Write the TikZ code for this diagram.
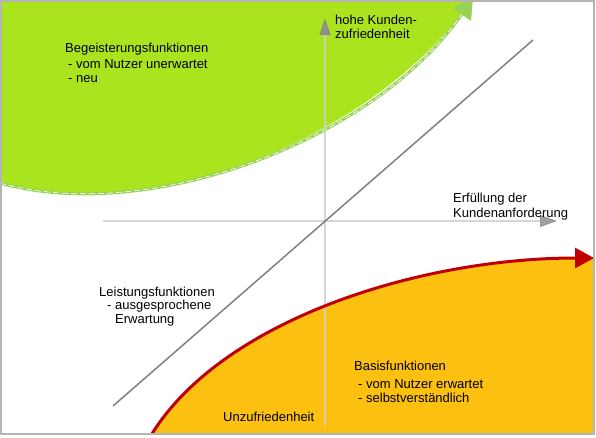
\documentclass[tikz,border=0pt]{standalone}
\usepackage{fontspec}
\setmainfont{Liberation Sans}
\usetikzlibrary{arrows.meta}
\definecolor{kanogreen}{HTML}{AAE41E}
\definecolor{kanogreenedge}{HTML}{98D255}
\definecolor{kanoorange}{HTML}{FCC010}
\definecolor{kanored}{HTML}{C00000}
\definecolor{axisgray}{HTML}{CFCFCF}
\definecolor{axishead}{HTML}{8C8494}
\definecolor{axisheadx}{HTML}{909090}
\definecolor{diaggray}{HTML}{808080}
\definecolor{framegray}{HTML}{B4B4B4}
\tikzset{
	lbl/.style={anchor=base west, inner sep=0pt, font=\fontsize{13}{15}\selectfont},
	axisline/.style={line width=1.3pt, color=axisgray, opacity=0.85},
}

\begin{document}
\begin{tikzpicture}[x=1pt, y=-1pt]
		%%%%% START %%%%%
		\useasboundingbox (0,0) rectangle (596,437);
		
		\begin{scope}
		\clip (1,1) rectangle (594,434);
		
		\fill[kanogreen] (0,0) -- (0,183) .. controls (150,225) and (375,140) .. (473,-2) -- cycle;
		\fill[kanoorange] (150,437) .. controls (220,320) and (420,258) .. (594,258) -- (594,437) -- cycle;
		
		\coordinate (xstart) at (103,221);
		\coordinate (xend) at (557,221);
		\coordinate (ystart) at (325,425);
		\coordinate (yend) at (325,18);
		\coordinate (dstart) at (113,406);
		\coordinate (dend) at (533,40);
		
		\draw[axisline, -{Triangle[length=17pt,width=12pt,color=axisheadx]}] (xstart) -- (xend);
		\draw[axisline, -{Triangle[length=17pt,width=11pt,color=axishead]}] (ystart) -- (yend);
		\draw[line width=1.5pt, color=diaggray] (dstart) -- (dend);
		
		\draw[line width=3pt, kanogreenedge, -{Triangle[length=20pt,width=22pt]}] (0,183) .. controls (150,225) and (375,140) .. (473,-2);
		\draw[white, line width=0.7pt, dash pattern=on 6pt off 3pt, shorten >=20pt] (0,183) .. controls (150,225) and (375,140) .. (473,-2);
		\draw[line width=3pt, kanored, -{Triangle[length=19pt,width=20pt]}] (150,437) .. controls (220,320) and (420,258) .. (594,258);
		\end{scope}
		
		\node[lbl] (begT) at (65,52) {Begeisterungsfunktionen};
		\node[lbl] (beg1) at (68,68) {-\ vom Nutzer unerwartet};
		\node[lbl] (beg2) at (68,82) {-\ neu};
		
		\node[lbl] (hoch1) at (335,24) {hohe Kunden-};
		\node[lbl] (hoch2) at (335,38) {zufriedenheit};
		
		\node[lbl] (erf1) at (453,202) {Erfüllung der};
		\node[lbl] (erf2) at (453,217) {Kundenanforderung};
		
		\node[lbl] (leiT) at (99,296) {Leistungsfunktionen};
		\node[lbl] (lei1) at (107,309) {-\ ausgesprochene};
		\node[lbl] (lei2) at (115,323) {Erwartung};
		
		\node[lbl] (basT) at (354,370) {Basisfunktionen};
		\node[lbl] (bas1) at (358,388) {-\ vom Nutzer erwartet};
		\node[lbl] (bas2) at (358,402) {-\ selbstverständlich};
		
		\node[lbl] (unzu) at (223,421) {Unzufriedenheit};
		
		\draw[line width=1.2pt, color=framegray] (1,1) rectangle (594,434);
		
		%%%%% END %%%%%
\end{tikzpicture}
\end{document}
